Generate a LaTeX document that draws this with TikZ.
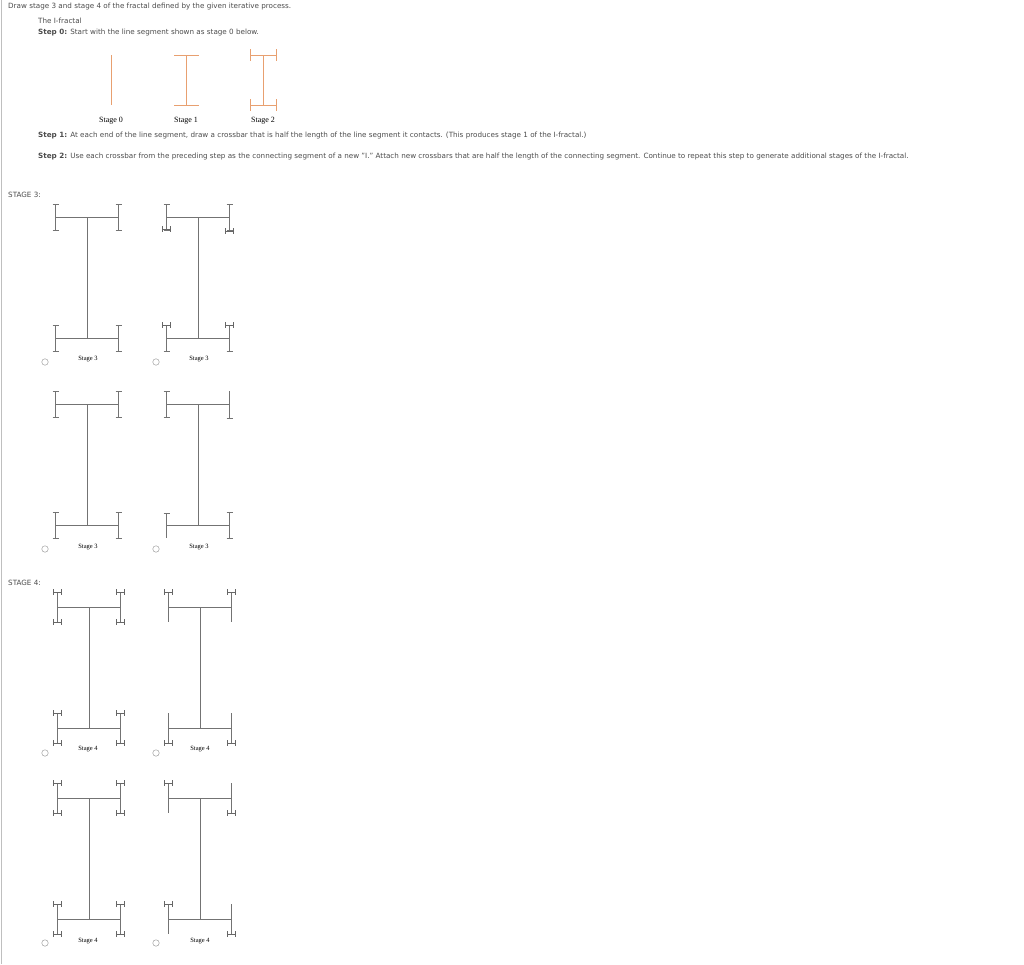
\documentclass[tikz,border=0pt]{standalone}
\usepackage{fontspec}
\setmainfont{DejaVu Sans}
\newfontfamily\serifrm{Liberation Serif}
\begin{document}
\begin{tikzpicture}[x=1pt,y=-1pt,
  txt/.style={anchor=west,inner sep=0pt,font=\fontsize{7.2}{8}\selectfont,text=black!70},
  lbl/.style={inner sep=0pt,font=\serifrm\fontsize{8}{9}\selectfont},
  slbl/.style={inner sep=0pt,font=\serifrm\fontsize{6.5}{7}\selectfont},
  org/.style={draw={rgb,255:red,232;green,160;blue,112},line width=1pt},
  gl/.style={draw=black!55,line width=0.8pt},
  radio/.style={circle,draw=black!45,inner sep=0pt,minimum size=6.5pt}]
\useasboundingbox (0,0) rectangle (1024,964);
\draw[black!25] (1,0) -- (1,964);
\node[txt] (t0) at (8,7) {Draw stage 3 and stage 4 of the fractal defined by the given iterative process.};
\node[txt] (t1) at (38,21) {The I-fractal};
\node[txt] (t2) at (38,33) {\textbf{Step 0:} Start with the line segment shown as stage 0 below.};
\node[txt] (t3) at (38,136) {\textbf{Step 1:} At each end of the line segment, draw a crossbar that is half the length of the line segment it contacts. (This produces stage 1 of the I-fractal.)};
\node[txt] (t4) at (38,157) {\textbf{Step 2:} Use each crossbar from the preceding step as the connecting segment of a new "I." Attach new crossbars that are half the length of the connecting segment. Continue to repeat this step to generate additional stages of the I-fractal.};
\node[txt] (s3) at (8,195) {STAGE 3:};
\node[txt] (s4) at (8,583) {STAGE 4:};
% top figures
\draw[org] (111,55) -- (111,105);
\draw[org] (186,55) -- (186,105) (174,55) -- (199,55) (174,105) -- (199,105);
\draw[org] (263,55) -- (263,105);
\draw[org] (250,55) -- (276,55) (250,105) -- (276,105)
  (250,49) -- (250,61) (276,49) -- (276,61) (250,99) -- (250,111) (276,99) -- (276,111);
\node[lbl] (l0) at (111,121) {Stage 0};
\node[lbl] (l1) at (186,121) {Stage 1};
\node[lbl] (l2) at (263,121) {Stage 2};
\newcommand\baseI[2]{%
  \draw[gl] (#1,#2) -- (#1,#2+121) (#1-31.5,#2) -- (#1+31.5,#2) (#1-31.5,#2+121) -- (#1+31.5,#2+121);}
\newcommand\tipthree[3]{%
  \draw[gl] (#1,#2-13) -- (#1,#2+13) (#1-3,#2-13) -- (#1+3,#2-13) (#1-3,#2+13) -- (#1+3,#2+13);}
\newcommand\hmark[2]{%
  \draw[black!60,line width=0.6pt] (#1-4,#2) -- (#1+4,#2) (#1-4,#2-3) -- (#1-4,#2+3) (#1+4,#2-3) -- (#1+4,#2+3);}
\newcommand\tipfour[2]{\draw[gl] (#1,#2-15) -- (#1,#2+15);}
% Stage 3 row 1
\baseI{87}{217}
\foreach \x in {55.5,118.5}{\foreach \y in {217,338}{\tipthree{\x}{\y}{}}}
\node[radio] (r1) at (45,362) {}; \node[slbl] (c1) at (88,359) {Stage 3};
\baseI{198}{217}
\foreach \x in {166.5,229.5}{\foreach \y in {217,338}{\tipthree{\x}{\y}{}}}
\hmark{166.5}{229}\hmark{229.5}{231}\hmark{166.5}{325}\hmark{229.5}{325}
\node[radio] (r2) at (156,362) {}; \node[slbl] (c2) at (199,359) {Stage 3};
% Stage 3 row 2
\baseI{87}{404}
\foreach \x in {55.5,118.5}{\foreach \y in {404,525}{\tipthree{\x}{\y}{}}}
\node[radio] (r3) at (45,549) {}; \node[slbl] (c3) at (88,547) {Stage 3};
\baseI{198}{404}
\tipthree{166.5}{404}{}
\draw[gl] (229.5,391) -- (229.5,418) (226.5,418) -- (232.5,418);
\draw[gl] (166.5,513) -- (166.5,538) (163.5,513) -- (169.5,513);
\tipthree{229.5}{525}{}
\node[radio] (r4) at (156,549) {}; \node[slbl] (c4) at (199,547) {Stage 3};
% Stage 4 row 1
\baseI{89}{607}
\foreach \x in {57.5,120.5}{\foreach \y in {607,728}{\tipfour{\x}{\y}\hmark{\x}{\y-15}\hmark{\x}{\y+15}}}
\node[radio] (r5) at (45,753) {}; \node[slbl] (c5) at (88,749) {Stage 4};
\baseI{200}{607}
\foreach \x in {168.5,231.5}{\foreach \y in {607,728}{\tipfour{\x}{\y}}}
\hmark{168.5}{592}\hmark{231.5}{592}\hmark{231.5}{743}\hmark{168.5}{743}
\node[radio] (r6) at (156,753) {}; \node[slbl] (c6) at (200,749) {Stage 4};
% Stage 4 row 2
\baseI{89}{798}
\foreach \x in {57.5,120.5}{\foreach \y in {798,919}{\tipfour{\x}{\y}\hmark{\x}{\y-15}\hmark{\x}{\y+15}}}
\node[radio] (r7) at (45,943) {}; \node[slbl] (c7) at (88,941) {Stage 4};
\baseI{200}{798}
\foreach \x in {168.5,231.5}{\foreach \y in {798,919}{\tipfour{\x}{\y}}}
\hmark{168.5}{783}\hmark{231.5}{813}\hmark{168.5}{904}\hmark{231.5}{934}
\node[radio] (r8) at (156,943) {}; \node[slbl] (c8) at (200,941) {Stage 4};
\end{tikzpicture}
\end{document}
